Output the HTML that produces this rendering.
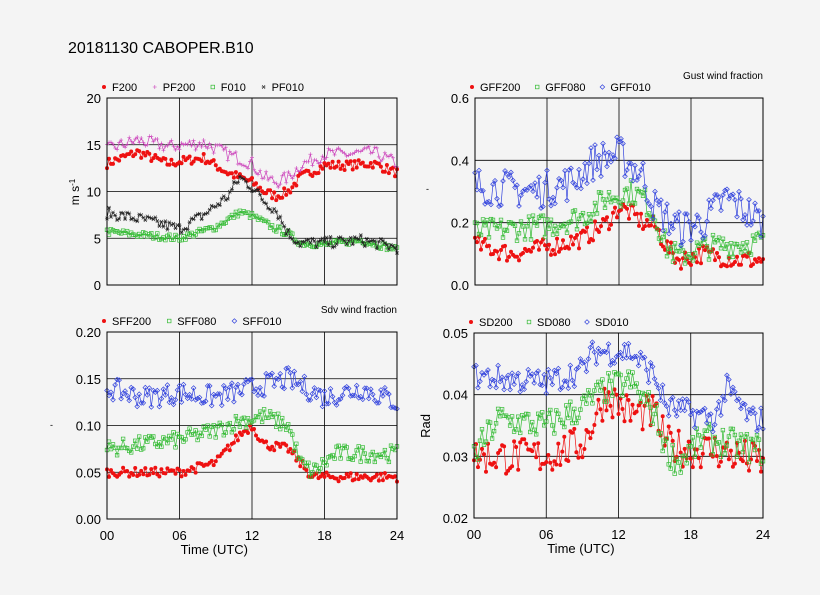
<!DOCTYPE html>
<html><head><meta charset="utf-8"><style>
body{margin:0;background:#f4f4f4;}
svg{display:block;font-family:"Liberation Sans",sans-serif;}
</style></head><body>
<svg id="s" width="820" height="595" viewBox="0 0 820 595" xmlns="http://www.w3.org/2000/svg">
<rect width="820" height="595" fill="#f4f4f4"/>
<text x="68" y="53" font-size="16">20181130 CABOPER.B10</text>
</svg>
<script>
var S=document.getElementById('s'),out='';
var seed=7;function rnd(){seed=(seed*16807)%2147483647;return seed/2147483647;}
function interp(a,t){for(var i=0;i<a.length-1;i++){if(t<=a[i+1][0]){var f=(t-a[i][0])/(a[i+1][0]-a[i][0]);return a[i][1]+f*(a[i+1][1]-a[i][1]);}}return a[a.length-1][1];}
function series(a,n){var r=[];for(var i=0;i<=144;i++){var t=i/6;r.push([t,interp(a,t)+(rnd()*2-1)*n]);}return r;}
function f1(v){return v.toFixed(1);}
function mk(type,x,y,c){
 x=+x;y=+y;
 if(type=='dot')return '<circle cx="'+f1(x)+'" cy="'+f1(y)+'" r="2" fill="'+c+'"/>';
 if(type=='sq')return '<rect x="'+f1(x-1.8)+'" y="'+f1(y-1.8)+'" width="3.6" height="3.6" fill="none" stroke="'+c+'" stroke-width="0.7"/>';
 if(type=='dia')return '<path d="M'+f1(x)+' '+f1(y-2.3)+'L'+f1(x+2.3)+' '+f1(y)+'L'+f1(x)+' '+f1(y+2.3)+'L'+f1(x-2.3)+' '+f1(y)+'Z" fill="none" stroke="'+c+'" stroke-width="0.7"/>';
 if(type=='plus')return '<path d="M'+f1(x-2)+' '+f1(y)+'H'+f1(x+2)+'M'+f1(x)+' '+f1(y-2)+'V'+f1(y+2)+'" fill="none" stroke="'+c+'" stroke-width="0.6"/>';
 if(type=='star')return '<path d="M'+f1(x-2)+' '+f1(y)+'H'+f1(x+2)+'M'+f1(x-1.5)+' '+f1(y-1.8)+'L'+f1(x+1.5)+' '+f1(y+1.8)+'M'+f1(x+1.5)+' '+f1(y-1.8)+'L'+f1(x-1.5)+' '+f1(y+1.8)+'" fill="none" stroke="'+c+'" stroke-width="0.6"/>';
}
function panel(P){
 var x0=P.x,y0=P.y,w=P.w,h=P.h;
 function X(t){return x0+t/24*w;}function Y(v){return y0+h-(v-P.min)/(P.max-P.min)*h;}
 var o='';
 P.grid.forEach(function(v){o+='<line x1="'+x0+'" x2="'+(x0+w)+'" y1="'+Y(v)+'" y2="'+Y(v)+'" stroke="#000" stroke-width="0.8"/>';});
 [6,12,18].forEach(function(t){o+='<line x1="'+X(t)+'" x2="'+X(t)+'" y1="'+y0+'" y2="'+(y0+h)+'" stroke="#000" stroke-width="0.8"/>';});
 P.ser.forEach(function(s){var d=series(s.a,s.n);var p='';d.forEach(function(q,i){var yy=Math.max(y0,Math.min(y0+h,Y(q[1])));p+=(i?'L':'M')+f1(X(q[0]))+' '+f1(yy);});
  o+='<path d="'+p+'" fill="none" stroke="'+s.c+'" stroke-width="0.7"/>';
  d.forEach(function(q){var yy=Math.max(y0,Math.min(y0+h,Y(q[1])));o+=mk(s.m,X(q[0]),yy,s.c);});});
 o+='<rect x="'+x0+'" y="'+y0+'" width="'+w+'" height="'+h+'" fill="none" stroke="#000" stroke-width="1"/>';
 P.ticks.forEach(function(v){o+='<text x="'+(x0-6)+'" y="'+(Y(v[0])+5)+'" font-size="13" text-anchor="end">'+v[1]+'</text>';});
 if(P.xl){['00','06','12','18','24'].forEach(function(l,i){o+='<text x="'+X(i*6)+'" y="'+(y0+h+21)+'" font-size="13" text-anchor="middle">'+l+'</text>';});
  o+='<text x="'+(x0+w*0.37)+'" y="'+(y0+h+35)+'" font-size="13" text-anchor="middle">Time (UTC)</text>';}
 var lx=x0-3;P.ser.forEach(function(s){o+=mk(s.m,lx,P.y-11,s.c);o+='<text x="'+(lx+8)+'" y="'+(P.y-7)+'" font-size="11">'+s.name+'</text>';lx+=s.name.length*7.2+22;});
 return o;
}
var R='#ee1111',G='#33bb33',B='#3344dd';
out+=panel({x:107,y:98,w:290,h:187,min:0,max:20,grid:[5,10,15],ticks:[[20,'20'],[15,'15'],[10,'10'],[5,'5'],[0,'0']],
 ser:[{name:'F200',m:'dot',c:R,n:0.5,a:[[0,13],[2.5,14.2],[5,13],[8,13.6],[10,12],[12,11],[13,10],[14,9.5],[15,10],[16,11.5],[18,12.8],[20,12.8],[22,13],[24,12]]},
 {name:'PF200',m:'plus',c:'#cc44bb',n:0.7,a:[[0,14.5],[2.5,15.5],[5,14.8],[8,15.2],[10,14],[12,13],[13,11.5],[14,11],[15,11.5],[16,12.8],[18,14],[20,14],[22,14.2],[24,13]]},
 {name:'F010',m:'sq',c:G,n:0.35,a:[[0,5.7],[6,5],[9,6.2],[11,7.8],[12,7.4],[14,6],[15,5.5],[16,4.5],[18,4.3],[21,4.8],[24,3.8]]},
 {name:'PF010',m:'star',c:'#222',n:0.6,a:[[0,7.7],[3,7],[6,6],[8,7.5],[10,9.5],[11,11.5],[12,10.5],[13,9],[14,8],[15,5.5],[16,4.5],[18,4.5],[21,4.8],[24,4]]}]});
out+=panel({x:475,y:98,w:288,h:187,min:0,max:0.6,grid:[0.2,0.4],ticks:[[0.6,'0.6'],[0.4,'0.4'],[0.2,'0.2'],[0,'0.0']],
 ser:[{name:'GFF200',m:'dot',c:R,n:0.03,a:[[0,0.13],[3,0.1],[6,0.12],[9,0.15],[11,0.2],[12,0.25],[13,0.23],[14,0.2],[15,0.19],[16,0.12],[17,0.08],[19,0.1],[22,0.08],[24,0.08]]},
 {name:'GFF080',m:'sq',c:G,n:0.04,a:[[0,0.17],[6,0.19],[9,0.22],[11,0.28],[13,0.3],[14,0.28],[15,0.22],[16,0.12],[17,0.09],[19,0.12],[24,0.14]]},
 {name:'GFF010',m:'dia',c:B,n:0.06,a:[[0,0.32],[5,0.3],[8,0.33],[10,0.4],[12,0.42],[14,0.35],[15,0.25],[17,0.18],[19,0.2],[21,0.28],[24,0.2]]}]});
out+=panel({x:107,y:332,w:290,h:187,min:0,max:0.2,grid:[0.05,0.1,0.15],xl:1,ticks:[[0.2,'0.20'],[0.15,'0.15'],[0.1,'0.10'],[0.05,'0.05'],[0,'0.00']],
 ser:[{name:'SFF200',m:'dot',c:R,n:0.005,a:[[0,0.05],[6,0.05],[9,0.06],[11,0.09],[12,0.1],[13,0.08],[15,0.075],[16,0.06],[17,0.045],[24,0.045]]},
 {name:'SFF080',m:'sq',c:G,n:0.009,a:[[0,0.075],[6,0.085],[9,0.095],[11,0.105],[13,0.11],[15,0.1],[16,0.06],[17,0.05],[19,0.07],[24,0.07]]},
 {name:'SFF010',m:'dia',c:B,n:0.012,a:[[0,0.14],[3,0.13],[6,0.135],[9,0.13],[12,0.14],[15,0.15],[18,0.13],[21,0.14],[24,0.125]]}]});
out+=panel({x:474,y:333,w:289,h:185,min:0.02,max:0.05,grid:[0.03,0.04],xl:1,ticks:[[0.05,'0.05'],[0.04,'0.04'],[0.03,'0.03'],[0.02,'0.02']],
 ser:[{name:'SD200',m:'dot',c:R,n:0.003,a:[[0,0.03],[6,0.03],[9,0.032],[10,0.036],[11,0.04],[13,0.037],[15,0.037],[16,0.032],[18,0.031],[20,0.031],[24,0.029]]},
 {name:'SD080',m:'sq',c:G,n:0.0025,a:[[0,0.03],[2,0.036],[6,0.035],[9,0.038],[11,0.041],[13,0.042],[15,0.037],[16,0.031],[17,0.029],[19,0.033],[24,0.031]]},
 {name:'SD010',m:'dia',c:B,n:0.0022,a:[[0,0.043],[6,0.042],[9,0.044],[10,0.047],[13,0.047],[15,0.043],[16,0.038],[18,0.037],[20,0.036],[21,0.041],[23,0.036],[24,0.036]]}]});
out+='<text x="763" y="79" font-size="10" text-anchor="end">Gust wind fraction</text>';
out+='<text x="397" y="313" font-size="10" text-anchor="end">Sdv wind fraction</text>';
out+='<text transform="translate(79,192) rotate(-90)" font-size="12" text-anchor="middle">m s<tspan dy="-4" font-size="8">-1</tspan></text>';
out+='<text transform="translate(430,426) rotate(-90)" font-size="13" text-anchor="middle">Rad</text>';
out+='<text x="426" y="192" font-size="9">-</text><text x="50" y="428" font-size="9">-</text>';
S.insertAdjacentHTML('beforeend',out);
</script>
</body></html>
